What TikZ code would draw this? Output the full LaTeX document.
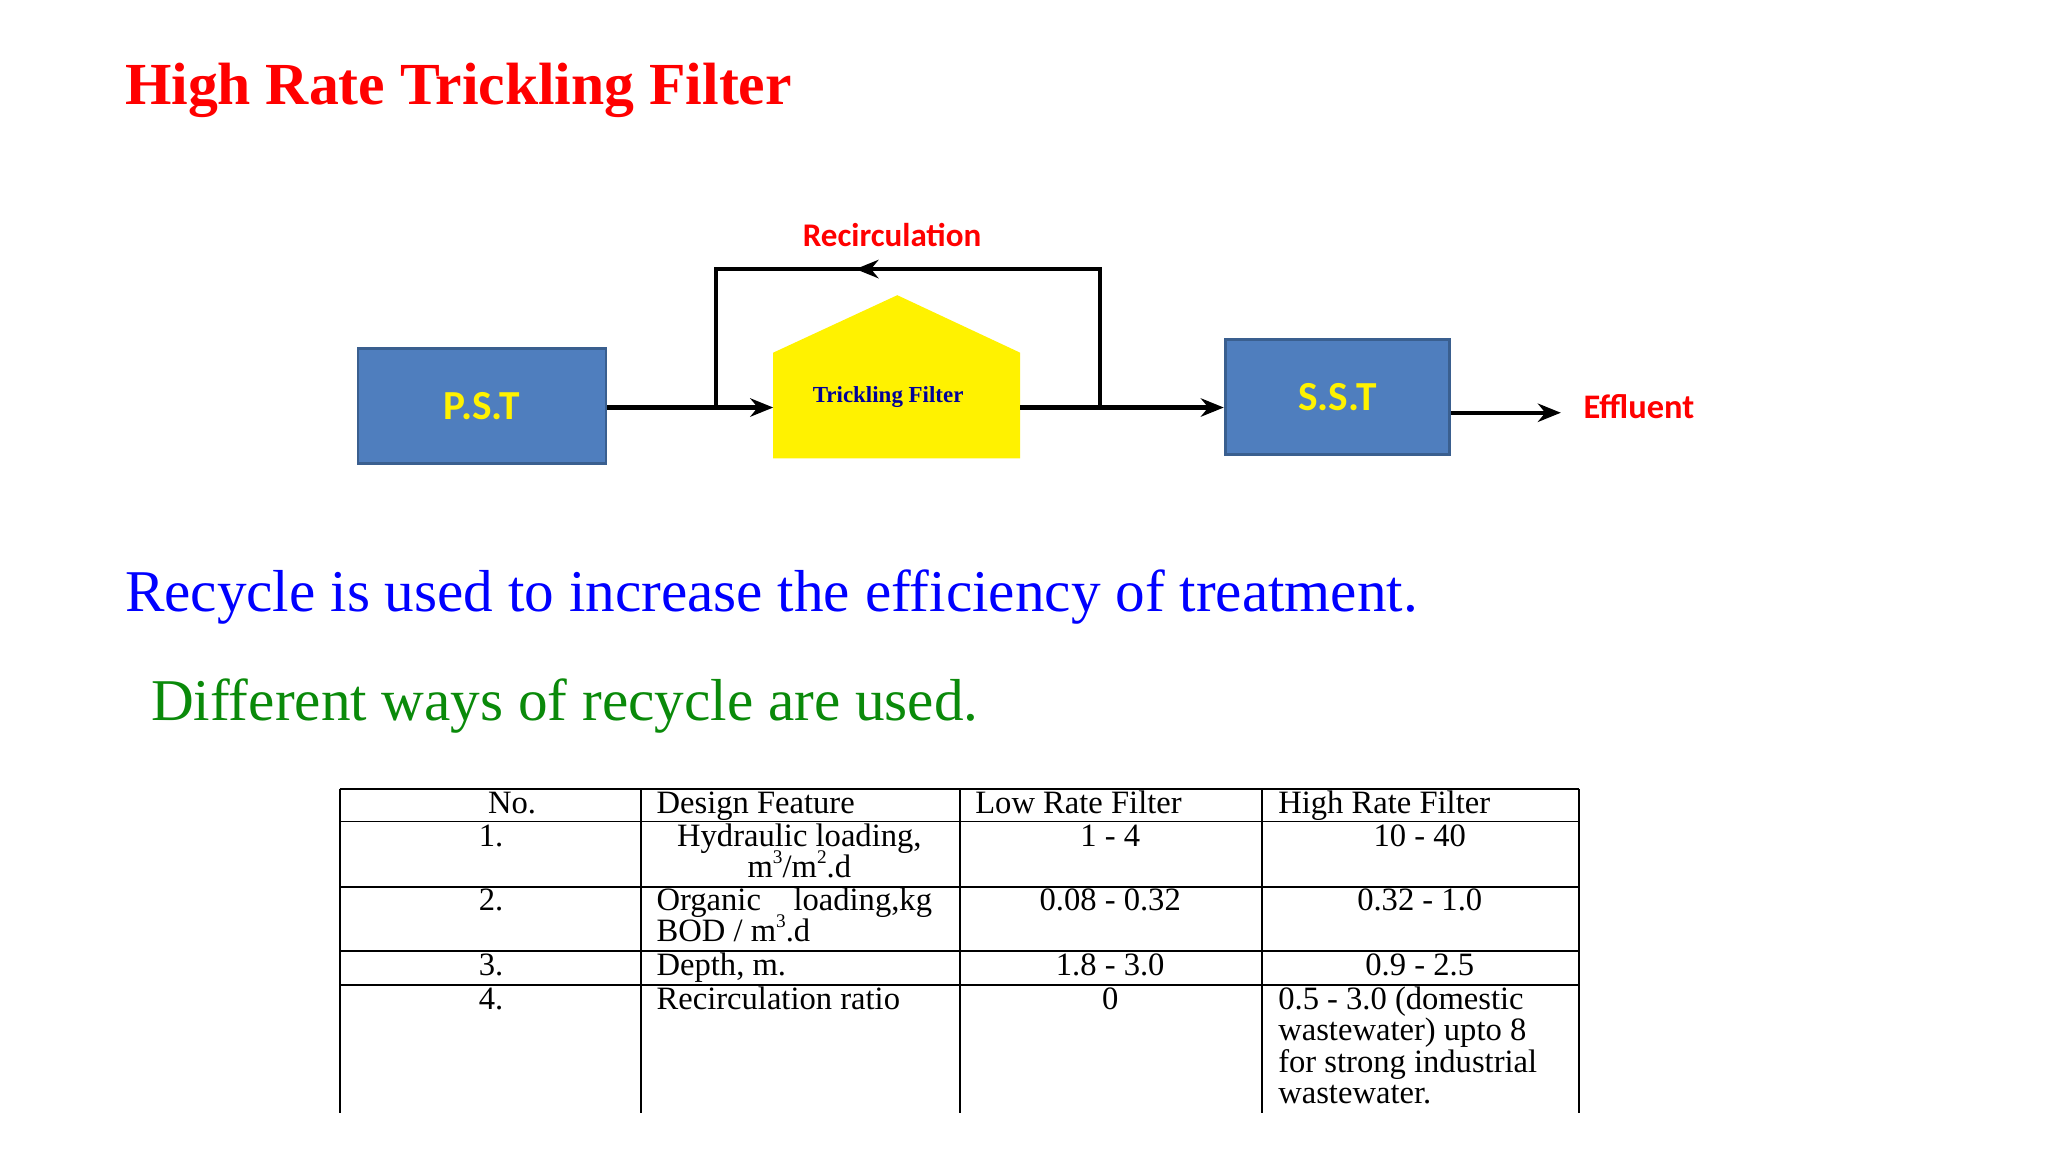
\documentclass[tikz,border=0pt]{standalone}
\usepackage{fontspec}
\setmainfont{Liberation Serif}
\newfontfamily\carlitofont{Carlito}
\usetikzlibrary{arrows.meta}
\definecolor{boxblue}{HTML}{4F7EBE}
\definecolor{boxedge}{HTML}{3A5F8F}
\definecolor{grn}{HTML}{0A8A0A}
\newcommand{\supr}[1]{\raisebox{0.45em}{\fontsize{4.2}{4.2}\selectfont #1}}
\begin{document}
\begin{tikzpicture}[x=0.1mm,y=-0.1mm,
  flow/.style={line width=0.9pt,-{Stealth[length=5pt,width=4pt]}},
  tline/.style={line width=0.4pt},
  cell/.style={font=\fontsize{7.1}{7.6}\selectfont,inner sep=0pt,align=left},
  ccell/.style={font=\fontsize{7.1}{7.6}\selectfont,inner sep=0pt,align=center}]
\useasboundingbox[fill=white] (0,0) rectangle (1568,882);
\node[anchor=base west,inner sep=0,text=red,font=\fontsize{13}{15}\selectfont\bfseries] (title) at (95,80) {High Rate Trickling Filter};
% boxes
\node[draw=boxedge,fill=boxblue,minimum width=190*0.1mm,minimum height=88*0.1mm,font=\carlitofont\fontsize{9}{10}\selectfont\bfseries,text=yellow,line width=0.6pt] (pst) at (369,311) {P.S.T};
\node[draw=boxedge,fill=boxblue,minimum width=172*0.1mm,minimum height=88*0.1mm,font=\carlitofont\fontsize{9}{10}\selectfont\bfseries,text=yellow,line width=0.6pt] (sst) at (1024,304) {S.S.T};
\fill[yellow] (592,351) -- (592,270) -- (687,226) -- (781,270) -- (781,351) -- cycle;
\node[font=\fontsize{5}{6}\selectfont\bfseries,text=blue!60!black] (tf) at (680,304) {Trickling Filter};
\coordinate (tfin) at (592,312);
\coordinate (tfout) at (781,312);
\coordinate (r1) at (548,312);
\coordinate (r2) at (548,206);
\coordinate (r3) at (842,206);
\coordinate (r4) at (842,312);
\coordinate (rm) at (655,206);
\draw[flow] (pst.east|-tfin) -- (tfin);
\draw[flow] (tfout) -- (sst.west|-tfout);
\draw[line width=0.9pt] (r1) -- (r2) -- (r3) -- (r4);
\draw[flow] (742,206) -- (rm);
\coordinate (eff) at (1195,316);
\draw[flow] (sst.east|-eff) -- (eff);
\node[anchor=west,text=red,font=\carlitofont\fontsize{7.5}{9}\selectfont\bfseries] (efft) at (1200,311) {Effluent};
\node[text=red,font=\carlitofont\fontsize{7.2}{8}\selectfont\bfseries] (rect) at (683,180) {Recirculation};
% texts
\node[anchor=base west,inner sep=0,text=blue,font=\fontsize{12.9}{15}\selectfont] (t1) at (95,468) {Recycle is used to increase the efficiency of treatment.};
\node[anchor=base west,inner sep=0,text=grn,font=\fontsize{12.9}{15}\selectfont] (t2) at (115,552) {Different ways of recycle are used.};
% table
\foreach \x in {260,491,735,966,1209} \draw[tline] (\x,604) -- (\x,852);
\foreach \y in {604,629,679,728,754} \draw[tline] (260,\y) -- (1209,\y);
\node[ccell,anchor=base] (h1) at (392,623) {No.};
\node[cell,anchor=base west] (h2) at (502,623) {Design Feature};
\node[cell,anchor=base west] (h3) at (746,623) {Low Rate Filter};
\node[cell,anchor=base west] (h4) at (978,623) {High Rate Filter};
\node[ccell,anchor=base] at (376,648) {1.};
\node[ccell,anchor=base] at (612,648) {Hydraulic loading,};
\node[ccell,anchor=base] at (612,672) {m\supr{3}/m\supr{2}.d};
\node[ccell,anchor=base] at (850,648) {1 - 4};
\node[ccell,anchor=base] at (1087,648) {10 - 40};
\node[ccell,anchor=base] at (376,697) {2.};
\node[cell,anchor=base west] at (502,697) {Organic\quad loading,kg};
\node[cell,anchor=base west] at (502,721) {BOD / m\supr{3}.d};
\node[ccell,anchor=base] at (850,697) {0.08 - 0.32};
\node[ccell,anchor=base] at (1087,697) {0.32 - 1.0};
\node[ccell,anchor=base] at (376,747) {3.};
\node[cell,anchor=base west] at (502,747) {Depth, m.};
\node[ccell,anchor=base] at (850,747) {1.8 - 3.0};
\node[ccell,anchor=base] at (1087,747) {0.9 - 2.5};
\node[ccell,anchor=base] at (376,773) {4.};
\node[cell,anchor=base west] at (502,773) {Recirculation ratio};
\node[ccell,anchor=base] at (850,773) {0};
\node[cell,anchor=base west] at (978,773) {0.5 - 3.0 (domestic};
\node[cell,anchor=base west] at (978,797) {wastewater) upto 8};
\node[cell,anchor=base west] at (978,821) {for strong industrial};
\node[cell,anchor=base west] at (978,845) {wastewater.};
\end{tikzpicture}
\end{document}
